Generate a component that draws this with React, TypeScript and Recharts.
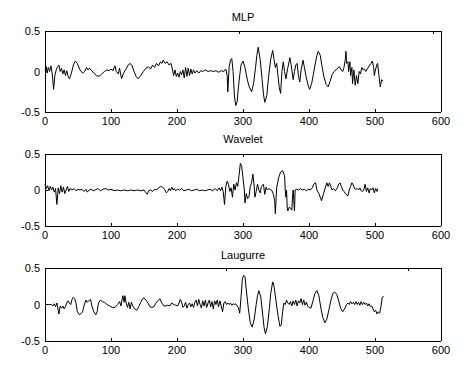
import React from 'react';
import { LineChart, Line, XAxis, YAxis } from 'recharts';

const xTicks = [0, 100, 200, 300, 400, 500, 600];
const yTicks = [-0.5, 0, 0.5];
const titles = ['MLP', 'Wavelet', 'Laugurre'];

const mlpPoints: [number, number][] = [
  [0,0.02],[2,0.06],[3,-0.02],[5,0.05],[7,0.0],[9,0.07],[11,-0.03],[13,-0.22],[15,-0.05],[17,0.02],[19,0.06],[21,0.08],[23,0.0],[25,0.04],[27,-0.03],[29,0.02],[31,-0.05],[33,0.01],[35,-0.06],[37,-0.09],[40,-0.02],[43,0.08],[46,0.13],[49,0.1],[53,0.02],[57,-0.02],[60,0.0],[63,0.05],[65,0.02],[67,0.04],[70,0.02],[74,-0.02],[78,-0.05],[82,-0.06],[86,-0.03],[90,0.0],[94,0.02],[97,0.01],[100,0.03],[103,0.01],[106,0.07],[108,0.0],[111,-0.03],[113,0.04],[116,-0.09],[119,-0.02],[122,0.02],[126,0.08],[129,0.1],[132,0.07],[135,0.0],[138,-0.06],[141,-0.09],[145,-0.05],[149,0.0],[153,0.04],[157,0.06],[160,0.03],[163,0.08],[166,0.05],[169,0.1],[172,0.07],[175,0.12],[177,0.1],[179,0.14],[182,0.1],[185,0.12],[188,0.08],[191,0.1],[193,0.03],[195,-0.05],[197,0.02],[199,-0.06],[201,-0.02],[203,-0.07],[205,0.0],[207,-0.04],[209,0.02],[211,-0.08],[213,0.05],[215,-0.06],[217,0.04],[219,-0.05],[221,0.03],[223,-0.03],[225,0.02],[227,-0.02],[230,0.01],[233,-0.02],[236,0.01],[239,0.0],[243,0.02],[247,0.0],[251,0.01],[255,0.0],[259,0.01],[263,-0.01],[267,0.01],[271,0.0],[274,0.03],[276,-0.05],[277,-0.25],[279,0.05],[281,0.14],[283,0.16],[285,0.0],[287,-0.3],[289,-0.42],[291,-0.38],[293,-0.2],[295,-0.05],[297,0.08],[300,0.13],[303,0.05],[306,-0.08],[309,-0.18],[313,-0.25],[316,-0.15],[319,0.05],[321,0.2],[323,0.3],[326,0.15],[329,-0.1],[331,-0.28],[333,-0.38],[336,-0.3],[339,-0.05],[342,0.15],[345,0.26],[347,0.15],[349,0.05],[351,0.1],[353,-0.05],[355,-0.2],[357,-0.27],[359,0.0],[361,0.12],[363,0.0],[365,-0.09],[368,0.05],[371,0.17],[373,0.08],[376,-0.1],[378,0.0],[380,0.08],[382,0.1],[384,-0.05],[386,-0.13],[388,0.02],[391,0.14],[393,0.05],[396,-0.08],[399,-0.18],[401,-0.22],[404,-0.15],[407,-0.02],[410,0.12],[412,0.2],[414,0.25],[417,0.2],[420,0.05],[423,-0.08],[426,-0.16],[429,-0.19],[432,-0.12],[435,-0.04],[438,0.0],[441,0.02],[443,0.04],[446,0.06],[448,0.03],[451,0.0],[453,0.05],[455,0.15],[456,0.25],[457,0.1],[459,0.12],[460,0.0],[462,0.12],[463,-0.05],[465,0.05],[466,-0.15],[468,0.02],[470,-0.17],[472,-0.05],[474,-0.15],[476,0.0],[478,-0.03],[480,0.05],[482,0.02],[484,0.03],[486,0.0],[489,0.04],[492,0.08],[494,0.1],[496,0.13],[498,0.05],[499,-0.05],[501,0.03],[503,0.09],[504,0.1],[506,-0.05],[508,-0.19],[510,-0.1],[512,-0.12]
];

const waveletPoints: [number, number][] = [
  [0,0.08],[2,0.02],[4,0.06],[6,-0.01],[8,0.05],[10,0.0],[12,0.04],[14,-0.03],[16,0.02],[18,-0.2],[20,0.03],[22,-0.05],[24,0.06],[26,-0.03],[28,0.04],[30,-0.05],[32,0.0],[34,0.05],[36,-0.02],[38,0.02],[41,0.0],[44,0.02],[47,-0.01],[50,0.01],[53,0.0],[56,0.01],[59,-0.02],[62,0.01],[64,-0.03],[67,0.0],[70,0.01],[73,-0.01],[76,0.0],[80,0.02],[84,-0.01],[88,0.01],[92,0.02],[96,0.0],[100,0.01],[105,-0.01],[110,0.0],[115,-0.01],[120,0.0],[125,-0.01],[130,0.0],[135,-0.01],[140,0.0],[145,-0.01],[150,0.0],[153,-0.04],[155,-0.06],[157,-0.01],[160,0.0],[163,-0.02],[166,0.01],[169,0.0],[172,0.03],[175,0.05],[178,0.04],[181,0.01],[184,-0.04],[186,-0.02],[188,0.02],[190,-0.01],[192,0.04],[194,0.0],[196,0.02],[198,-0.01],[201,0.01],[204,0.0],[207,0.02],[210,-0.01],[214,0.0],[218,0.01],[222,-0.01],[226,0.0],[230,0.01],[234,-0.01],[238,0.0],[242,-0.01],[246,0.0],[250,0.01],[254,-0.01],[258,0.02],[261,-0.01],[264,0.03],[266,-0.01],[268,0.04],[270,-0.02],[272,-0.2],[274,0.05],[276,0.12],[278,0.08],[280,-0.02],[282,0.03],[284,-0.1],[286,0.08],[288,0.0],[290,0.1],[292,0.05],[294,0.2],[296,0.37],[298,0.33],[300,0.17],[302,0.0],[303,-0.18],[305,-0.05],[307,-0.12],[309,-0.1],[311,0.05],[313,0.1],[315,0.22],[317,0.05],[318,-0.1],[320,-0.02],[322,0.08],[324,0.0],[326,-0.04],[328,0.05],[331,0.08],[333,-0.06],[335,0.04],[337,0.0],[339,0.02],[341,0.01],[344,-0.01],[346,-0.06],[348,-0.15],[349,-0.33],[351,0.03],[354,0.17],[357,0.25],[360,0.27],[363,0.2],[364,0.0],[365,-0.1],[366,0.0],[367,-0.25],[368,-0.29],[370,-0.24],[372,-0.25],[374,-0.28],[375,-0.1],[376,0.0],[377,-0.15],[378,-0.29],[379,0.0],[381,0.01],[384,0.0],[387,0.02],[390,0.0],[393,0.01],[396,-0.01],[399,0.01],[402,0.0],[405,0.03],[407,0.08],[410,0.1],[412,0.0],[415,-0.05],[419,-0.15],[422,-0.05],[425,0.04],[427,0.1],[429,0.05],[431,0.1],[433,0.05],[435,0.0],[437,0.02],[440,-0.01],[443,0.03],[445,0.08],[447,0.1],[449,0.05],[451,0.0],[453,-0.02],[456,-0.06],[459,-0.08],[461,0.0],[463,0.05],[465,0.1],[467,0.07],[469,0.02],[471,0.01],[473,0.02],[475,0.0],[477,0.03],[479,-0.01],[481,-0.02],[483,0.0],[485,0.08],[487,-0.02],[489,0.03],[491,-0.04],[493,0.02],[495,0.0],[497,0.03],[499,-0.04],[501,0.02],[503,-0.02],[504,0.02]
];

const laguerrePoints: [number, number][] = [
  [0,0.0],[5,0.0],[10,0.0],[12,-0.02],[14,0.01],[16,-0.03],[18,0.02],[20,-0.08],[21,-0.13],[23,-0.02],[25,-0.05],[27,-0.02],[29,-0.06],[31,-0.03],[33,0.02],[35,0.05],[37,0.02],[39,0.0],[41,0.07],[43,0.1],[45,0.08],[47,0.02],[49,-0.1],[52,-0.14],[55,-0.12],[57,-0.1],[59,-0.02],[62,0.06],[64,0.03],[66,0.05],[69,0.07],[71,-0.02],[74,-0.1],[77,-0.14],[79,-0.1],[81,0.02],[84,0.06],[87,0.04],[90,0.03],[94,0.0],[98,-0.02],[102,-0.04],[106,-0.04],[110,0.0],[113,0.04],[115,-0.02],[117,0.08],[118,0.12],[120,0.03],[121,0.12],[123,0.02],[125,-0.04],[127,0.03],[129,-0.06],[131,0.03],[133,-0.02],[136,-0.06],[139,-0.08],[142,-0.03],[145,0.03],[148,0.08],[150,0.09],[153,0.06],[156,0.02],[159,-0.03],[162,-0.04],[165,-0.03],[168,0.02],[171,0.05],[174,0.08],[177,0.02],[180,-0.02],[183,-0.02],[186,-0.01],[189,-0.02],[192,0.02],[195,0.0],[198,-0.01],[201,-0.02],[203,0.02],[205,0.07],[207,0.03],[209,-0.04],[211,-0.02],[213,0.03],[215,-0.05],[217,0.0],[219,0.02],[221,-0.03],[223,0.01],[225,-0.04],[227,0.03],[229,0.06],[231,-0.02],[233,0.07],[235,0.0],[237,-0.05],[239,0.05],[241,-0.02],[243,0.06],[245,-0.04],[247,0.02],[249,0.06],[251,-0.03],[253,0.04],[255,-0.06],[257,0.05],[259,0.0],[261,0.06],[263,-0.03],[265,0.05],[267,-0.02],[269,-0.1],[271,0.02],[273,0.04],[275,0.0],[277,0.02],[279,0.0],[281,0.02],[283,-0.01],[285,0.01],[287,0.0],[289,0.01],[291,-0.02],[293,-0.04],[295,-0.12],[297,0.1],[299,0.35],[301,0.4],[303,0.38],[305,0.2],[308,-0.05],[311,-0.25],[314,-0.31],[317,-0.2],[320,0.0],[322,0.12],[324,0.19],[327,0.1],[330,-0.15],[332,-0.32],[334,-0.4],[337,-0.3],[340,-0.05],[342,0.15],[345,0.31],[347,0.25],[350,0.05],[353,-0.15],[356,-0.3],[358,-0.28],[360,-0.1],[362,0.02],[364,0.0],[366,0.06],[368,0.02],[370,0.0],[372,0.04],[374,-0.02],[376,0.05],[378,0.0],[380,0.06],[382,-0.02],[384,0.05],[386,0.02],[388,0.08],[390,0.0],[392,0.06],[394,-0.01],[396,0.03],[398,-0.02],[400,-0.04],[403,-0.05],[406,0.05],[409,0.15],[412,0.19],[415,0.12],[418,-0.05],[421,-0.18],[424,-0.25],[427,-0.2],[430,-0.08],[433,0.05],[436,0.15],[439,0.17],[442,0.14],[445,0.05],[448,-0.05],[451,-0.1],[454,-0.06],[457,0.0],[459,0.02],[461,0.0],[463,0.04],[465,0.01],[467,0.03],[469,0.0],[471,0.04],[473,0.0],[475,0.03],[477,-0.01],[479,0.04],[481,0.0],[483,0.03],[485,0.0],[487,0.02],[489,-0.02],[491,0.01],[493,-0.03],[495,-0.02],[497,-0.06],[499,-0.1],[501,-0.08],[503,-0.13],[505,-0.1],[507,-0.12],[509,-0.03],[511,0.1],[513,0.11]
];

const FONT = '"Liberation Sans", Arial, Helvetica, sans-serif';

const panels = [
  { title: titles[0], points: mlpPoints, plotTop: 31, plotH: 81, titleBase: 21 },
  { title: titles[1], points: waveletPoints, plotTop: 154, plotH: 72, titleBase: 143 },
  { title: titles[2], points: laguerrePoints, plotTop: 268, plotH: 73, titleBase: 259 },
];

const TOP_PAD = 10;
const BOTTOM_AXIS_H = 22;
const LEFT_W = 45;
const RIGHT_M = 33;
const CHART_W = 474;

const BottomTick = (props: any) => {
  const { x, y, payload } = props;
  return (
    <g>
      <line x1={x} x2={x} y1={y} y2={y - 3} stroke="#000" strokeWidth={1} shapeRendering="crispEdges" />
      <text x={x} y={y + 13} textAnchor="middle" fontSize={11} fontFamily={FONT} fill="#000">
        {payload.value}
      </text>
    </g>
  );
};

const TopTick = (props: any) => {
  const { x, y } = props;
  return <line x1={x} x2={x} y1={y} y2={y + 3} stroke="#000" strokeWidth={1} shapeRendering="crispEdges" />;
};

const LeftTick = (props: any) => {
  const { x, y, payload } = props;
  return (
    <g>
      <line x1={x} x2={x + 3} y1={y} y2={y} stroke="#000" strokeWidth={1} shapeRendering="crispEdges" />
      <text x={x - 5} y={y + 4} textAnchor="end" fontSize={11} fontFamily={FONT} fill="#000">
        {String(payload.value)}
      </text>
    </g>
  );
};

const RightTick = (props: any) => {
  const { x, y } = props;
  return <line x1={x} x2={x - 3} y1={y} y2={y} stroke="#000" strokeWidth={1} shapeRendering="crispEdges" />;
};

const axisLineStyle = { stroke: '#000', strokeWidth: 1, shapeRendering: 'crispEdges' } as any;

function Panel({ points, plotTop, plotH }: { points: [number, number][]; plotTop: number; plotH: number }) {
  const data = points.map(([x, y]) => ({ x, y }));
  const h = TOP_PAD + plotH + BOTTOM_AXIS_H;
  return (
    <div style={{ position: 'absolute', left: 0, top: plotTop - TOP_PAD, width: CHART_W, height: h }}>
      <LineChart width={CHART_W} height={h} data={data} margin={{ top: TOP_PAD - 1, right: RIGHT_M - 1, bottom: 0, left: 0 }}>
        <XAxis
          xAxisId="b"
          dataKey="x"
          type="number"
          domain={[0, 600]}
          ticks={xTicks}
          interval={0}
          height={BOTTOM_AXIS_H}
          tickSize={0}
          tickMargin={0}
          tickLine={false}
          axisLine={axisLineStyle}
          tick={BottomTick}
        />
        <XAxis
          xAxisId="t"
          orientation="top"
          type="number"
          domain={[0, 600]}
          ticks={xTicks}
          interval={0}
          height={1}
          tickSize={0}
          tickMargin={0}
          tickLine={false}
          axisLine={axisLineStyle}
          tick={TopTick}
        />
        <YAxis
          yAxisId="l"
          type="number"
          domain={[-0.5, 0.5]}
          ticks={yTicks}
          interval={0}
          width={LEFT_W}
          tickSize={0}
          tickMargin={0}
          tickLine={false}
          axisLine={axisLineStyle}
          tick={LeftTick}
        />
        <YAxis
          yAxisId="r"
          orientation="right"
          type="number"
          domain={[-0.5, 0.5]}
          ticks={yTicks}
          interval={0}
          width={1}
          tickSize={0}
          tickMargin={0}
          tickLine={false}
          axisLine={axisLineStyle}
          tick={RightTick}
        />
        <Line
          xAxisId="b"
          yAxisId="l"
          type="linear"
          dataKey="y"
          stroke="#000"
          strokeWidth={1}
          dot={false}
          activeDot={false}
          isAnimationActive={false}
        />
      </LineChart>
    </div>
  );
}

export default function App() {
  return (
    <div style={{ position: 'absolute', left: 0, top: 0, width: 474, height: 384, background: '#fff', fontFamily: FONT }}>
      {panels.map((p) => (
        <Panel key={p.title} points={p.points} plotTop={p.plotTop} plotH={p.plotH} />
      ))}
      <svg width={474} height={384} style={{ position: 'absolute', left: 0, top: 0, pointerEvents: 'none' }}>
        {panels.map((p) => (
          <text key={p.title} x={LEFT_W + (CHART_W - LEFT_W - RIGHT_M) / 2} y={p.titleBase} textAnchor="middle" fontSize={11} fontFamily={FONT} fill="#000">
            {p.title}
          </text>
        ))}
      </svg>
    </div>
  );
}
